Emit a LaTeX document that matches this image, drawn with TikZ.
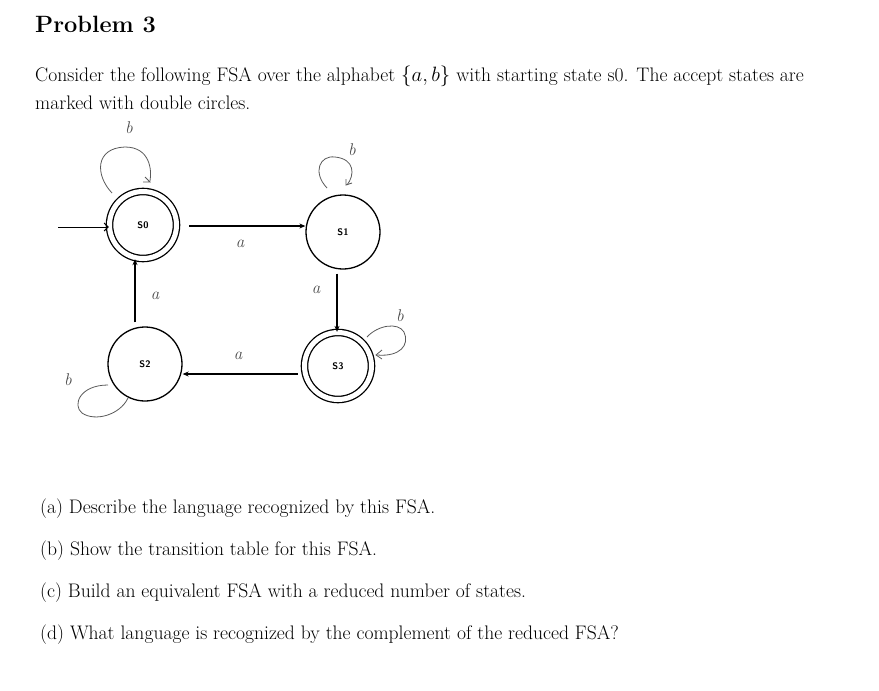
\documentclass[tikz,border=0pt]{standalone}
\usetikzlibrary{arrows.meta,shapes.geometric}
\begin{document}
\begin{tikzpicture}[x=1pt,y=-1pt,
  st/.style={draw,line width=1.3pt,ellipse,minimum width=74pt,minimum height=74pt,inner sep=0pt,font=\sffamily\bfseries\fontsize{9.5}{9.5}\selectfont},
  acc/.style={st,double,double distance=5pt,minimum width=67pt,minimum height=67pt},
  tr/.style={line width=1.1pt,-{Stealth[length=6pt,width=5pt]}},
  hand/.style={draw=black!65,line width=0.8pt},
  hl/.style={text=black!70,font=\itshape\fontsize{17}{17}\selectfont},
  txt/.style={anchor=base west,inner sep=0pt,font=\fontsize{19.6}{22}\selectfont}]
\useasboundingbox (0,0) rectangle (879,691);
\node[anchor=base west,inner sep=0pt,font=\bfseries\fontsize{23.6}{26}\selectfont] (title) at (35,32) {Problem 3};
\node[txt] (l1) at (35,81) {Consider the following FSA over the alphabet $\{a,b\}$ with starting state s0. The accept states are};
\node[txt] (l2) at (35,109) {marked with double circles.};
\node[txt] (qa) at (40,513) {(a) Describe the language recognized by this FSA.};
\node[txt] (qb) at (40,555) {(b) Show the transition table for this FSA.};
\node[txt] (qc) at (40,597) {(c) Build an equivalent FSA with a reduced number of states.};
\node[txt] (qd) at (40,639) {(d) What language is recognized by the complement of the reduced FSA?};

\node[acc] (s0) at (143,225) {S0};
\node[st] (s1) at (343,232) {S1};
\node[acc] (s3) at (338,366) {S3};
\node[st] (s2) at (145,364) {S2};
\coordinate (in) at (58,227);
\draw[line width=1pt,-{Straight Barb[length=4pt]}] (in) -- (s0.west|-in);
\draw[tr] (s0.east|-0,226) ++(12,0) coordinate (a0) -- (a0-|s1.west);
\draw[tr] (s1.south-|337,0) ++(0,4) coordinate (a1) -- (a1|-s3.north);
\draw[tr] (s3.west|-0,374) ++(-6,0) coordinate (a3) -- (a3-|s2.east);
\draw[tr] (s2.north-|135,0) ++(0,-4) coordinate (a2) -- (a2|-s0.south);
\node[hl] (la0) at (240,244) {a};
\node[hl] (la1) at (316,290) {a};
\node[hl] (la3) at (238,356) {a};
\node[hl] (la2) at (155,296) {a};
\draw[hand] (112,193) .. controls (95,175) and (95,148) .. (125,147) .. controls (150,147) and (152,170) .. (150,181);
\draw[hand] (145,177) -- (150,182) -- (143,182);
\node[hl] (lb0) at (129,128) {b};
\draw[hand] (327,188) .. controls (312,172) and (320,155) .. (335,157) .. controls (355,159) and (355,175) .. (347,185);
\draw[hand] (346,179) -- (346,185) -- (352,183);
\node[hl] (lb1) at (352,150) {b};
\draw[hand] (367,337) .. controls (378,325) and (398,322) .. (404,332) .. controls (410,345) and (400,357) .. (377,355);
\draw[hand] (382,350) -- (376,355) -- (382,359);
\node[hl] (lb3) at (400,316) {b};
\draw[hand] (108,385) .. controls (80,385) and (72,405) .. (82,413) .. controls (95,422) and (120,415) .. (128,398);
\node[hl] (lb2) at (68,380) {b};
\end{tikzpicture}
\end{document}
